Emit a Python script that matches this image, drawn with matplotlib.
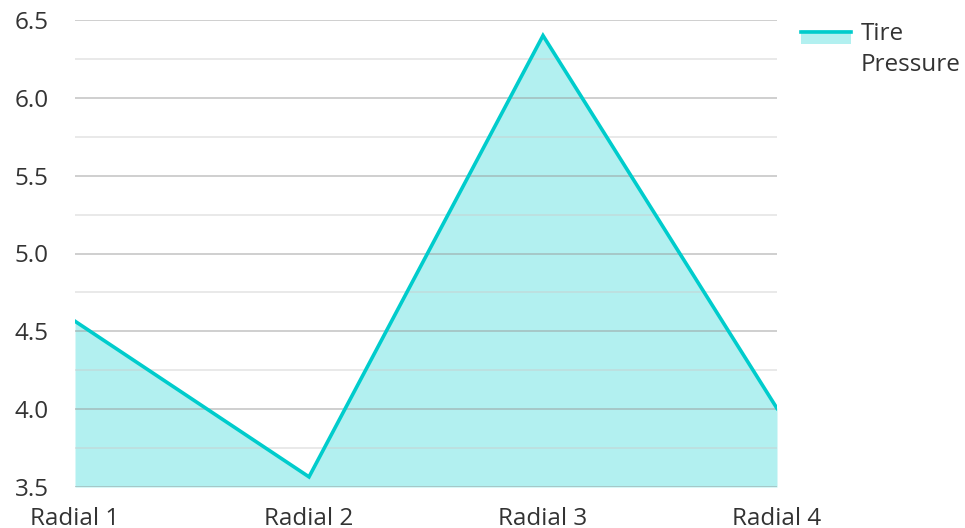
import matplotlib.pyplot as plt
from matplotlib.patches import Rectangle
from matplotlib.lines import Line2D
import numpy as np

plt.rcParams['font.family'] = ['Open Sans', 'DejaVu Sans']

categories = ['Radial 1', 'Radial 2', 'Radial 3', 'Radial 4']
pressure = [4.565, 3.565, 6.4, 4.005]
series_name = 'Tire\nPressure'

line_color = '#00cccc'
fill_color = '#b2f0f0'
text_color = '#333333'

fig = plt.figure(figsize=(9.65, 5.28), dpi=100)
ax = fig.add_axes([75 / 965, 1 - 487 / 528, (777 - 75) / 965, (487 - 20) / 528])

x = np.arange(len(categories))
ax.fill_between(x, 3.5, pressure, color=fill_color, lw=0, zorder=1)
ax.plot(x, pressure, color=line_color, lw=2.6, zorder=3, solid_joinstyle='miter')

ax.set_xlim(0, len(categories) - 1)
ax.set_ylim(3.5, 6.5)
ax.set_yticks(np.arange(3.5, 6.51, 0.5))
ax.set_yticks(np.arange(3.75, 6.5, 0.5), minor=True)
ax.set_yticklabels([f'{v:.1f}' for v in np.arange(3.5, 6.51, 0.5)])
ax.set_xticks(x)
ax.set_xticklabels(categories)

ax.grid(axis='y', which='major', color='#999999', alpha=0.55, lw=1.2, zorder=2)
ax.grid(axis='y', which='minor', color='#cccccc', alpha=0.5, lw=1.2, zorder=2)
ax.set_axisbelow(False)
for s in ax.spines.values():
    s.set_visible(False)
ax.tick_params(axis='both', which='both', length=0, labelsize=17.5, colors=text_color)
ax.tick_params(axis='y', pad=19)
ax.tick_params(axis='x', pad=14.5)

# legend drawn by hand at the top right
fig.add_artist(Rectangle((801 / 965, 1 - 44 / 528), 50 / 965, 14 / 528,
                         transform=fig.transFigure, color=fill_color, lw=0))
fig.add_artist(Line2D([801 / 965, 851 / 965], [1 - 31.5 / 528, 1 - 31.5 / 528],
                      transform=fig.transFigure, color=line_color, lw=2.6))
fig.text(861 / 965, 1 - 22 / 528, series_name, fontsize=17.5, color=text_color,
         va='top', ha='left', linespacing=1.4)

fig.savefig('out.png', dpi=100)
